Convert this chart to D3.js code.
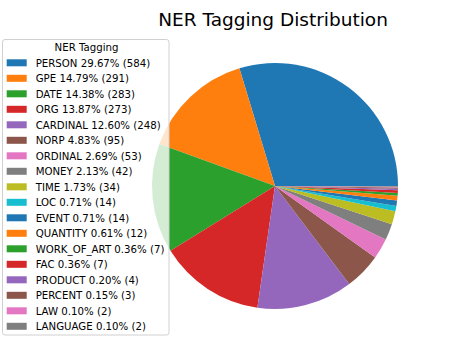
<!DOCTYPE html>
<html lang="en">
<head>
  <meta charset="utf-8" />
  <style>
    body { margin: 0; background: #fff; }
    text { font-family: "DejaVu Sans", sans-serif; fill: #000; }
  </style>
</head>
<body>
<script src="https://d3js.org/d3.v7.min.js"></script>
<script>
var labels = ["PERSON", "GPE", "DATE", "ORG", "CARDINAL", "NORP", "ORDINAL", "MONEY", "TIME",
  "LOC", "EVENT", "QUANTITY", "WORK_OF_ART", "FAC", "PRODUCT", "PERCENT", "LAW", "LANGUAGE"];
var counts = [584, 291, 283, 273, 248, 95, 53, 42, 34, 14, 14, 12, 7, 7, 4, 3, 2, 2];
var colors = ["#1f77b4", "#ff7f0e", "#2ca02c", "#d62728", "#9467bd", "#8c564b", "#e377c2", "#7f7f7f", "#bcbd22", "#17becf"];

var width = 474, height = 355;
var cx = 275, cy = 186, r = 123;

var total = d3.sum(counts);
var data = labels.map(function(l, i) { return { label: l, value: counts[i], i: i }; });

var svg = d3.select("body").append("svg")
  .attr("width", width)
  .attr("height", height);

svg.append("text")
  .attr("x", 273)
  .attr("y", 25.5)
  .attr("text-anchor", "middle")
  .style("font-size", "18.5px")
  .text("NER Tagging Distribution");

// matplotlib style: start at east, go counterclockwise
var pie = d3.pie()
  .sort(null)
  .value(function(d) { return d.value; })
  .startAngle(Math.PI / 2)
  .endAngle(Math.PI / 2 - 2 * Math.PI);

var arc = d3.arc().innerRadius(0).outerRadius(r);

svg.append("g")
  .attr("transform", "translate(" + cx + "," + cy + ")")
  .selectAll("path")
  .data(pie(data))
  .enter()
  .append("path")
    .attr("d", arc)
    .style("fill", function(d) { return colors[d.data.i % 10]; });

// legend
var lg = svg.append("g").attr("transform", "translate(2.5,39.5)");
var rowH = 15.5;

lg.append("rect")
  .attr("width", 166.5)
  .attr("height", 295.5)
  .attr("rx", 2.5)
  .style("fill", "#fff")
  .style("fill-opacity", 0.8)
  .style("stroke", "#d0d0d0")
  .style("stroke-width", 1);

lg.append("text")
  .attr("x", 84)
  .attr("y", 11)
  .attr("text-anchor", "middle")
  .style("font-size", "10.2px")
  .text("NER Tagging");

var rows = lg.selectAll("g.row")
  .data(data)
  .enter()
  .append("g")
    .attr("class", "row")
    .attr("transform", function(d, i) { return "translate(0," + (23.3 + i * rowH) + ")"; });

rows.append("rect")
  .attr("x", 4.2)
  .attr("y", -3.5)
  .attr("width", 20)
  .attr("height", 7)
  .style("fill", function(d) { return colors[d.i % 10]; });

rows.append("text")
  .attr("x", 33.2)
  .attr("y", 3.7)
  .style("font-size", "10.2px")
  .text(function(d) {
    return d.label + " " + (d.value / total * 100).toFixed(2) + "% (" + d.value + ")";
  });
</script>
</body>
</html>
